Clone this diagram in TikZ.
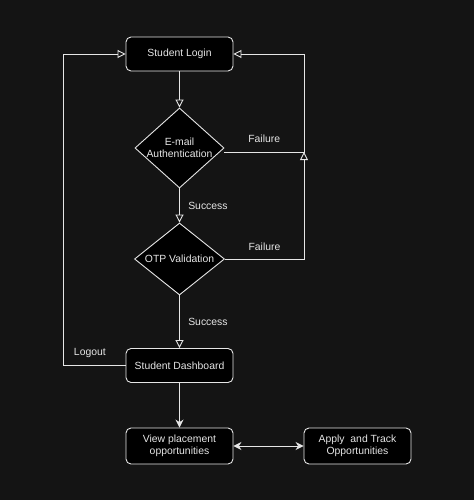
\documentclass[tikz,border=0pt]{standalone}
\usepackage{fontspec}
\setmainfont{Liberation Sans}
\usetikzlibrary{arrows.meta, shapes.geometric}
\definecolor{bg}{HTML}{141414}
\definecolor{fg}{HTML}{E6E6E6}
\tikzset{x=1pt, y=-1pt,
  every node/.style={text=fg, font=\fontsize{10.4}{12.5}\selectfont},
  stepbox/.style={draw=fg, fill=black, rounded corners=5pt, line width=0.9pt,
    minimum width=107pt, minimum height=34pt, align=center},
  decision/.style={draw=fg, fill=black, diamond, line width=0.9pt, inner sep=0pt,
    aspect=1.15, align=center},
  flow/.style={draw=fg, line width=0.9pt, -{Triangle[open, length=8pt, width=8pt]}},
  solid flow/.style={draw=fg, line width=0.9pt, -{Stealth[length=8pt, width=8pt]}}}

\begin{document}
\begin{tikzpicture}
\fill[bg] (0,0) rectangle (474,500);
\useasboundingbox (0,0) rectangle (474,500);

\node[stepbox] (login) at (179.5,54) {Student Login};
\node[decision, minimum width=88pt, minimum height=80pt] (email) at (179.5,148) {E-mail\\Authentication};
\node[decision, minimum width=90pt, minimum height=72pt] (otp) at (179.5,259) {OTP Validation};
\node[stepbox] (dash) at (179.5,365.5) {Student Dashboard};
\node[stepbox, minimum height=36pt] (view) at (179.5,446) {View placement\\opportunities};
\node[stepbox, minimum height=36pt] (apply) at (357.5,446) {Apply~ and Track\\Opportunities};

\coordinate (lj) at (63,365.5);
\coordinate (rj) at (304,152);

\draw[flow] (login) -- (email);
\draw[flow] (email) -- node[right=5pt] {Success} (otp);
\draw[flow] (otp) -- node[right=5pt] {Success} (dash);
\draw[solid flow] (dash) -- (view);
\draw[solid flow, {Stealth[length=8pt, width=8pt]}-{Stealth[length=8pt, width=8pt]}] (view) -- (apply);

\draw[flow] (dash.west) -- node[pos=0.57, above=4pt] {Logout} (lj) |- (login.west);
\draw[flow] (email.east |- rj) -- node[above=6pt] {Failure} (rj) |- (login.east);
\draw[flow] (otp.east) -| node[pos=0.25, above=5pt] {Failure} (rj);

\end{tikzpicture}
\end{document}
